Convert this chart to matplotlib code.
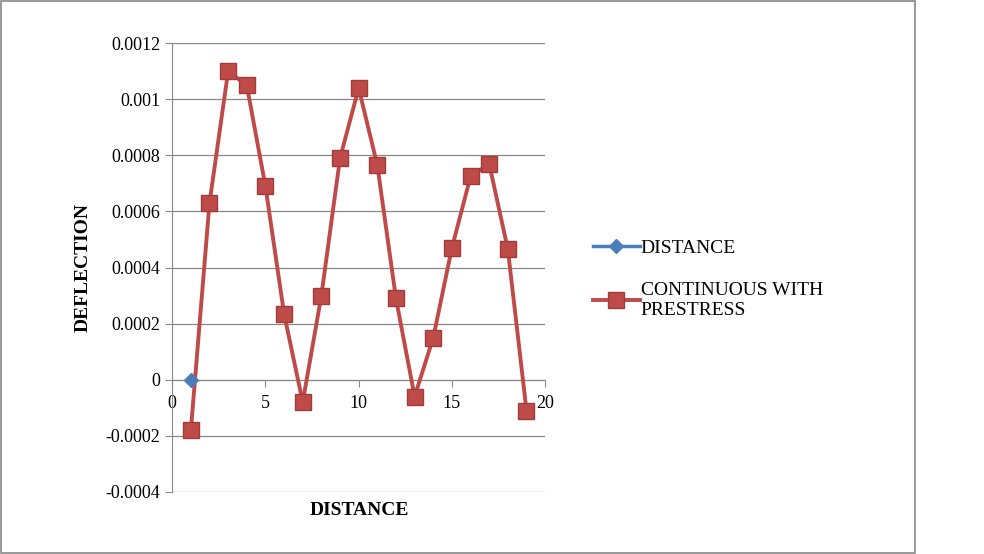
import matplotlib.pyplot as plt
from matplotlib.patches import Rectangle
from matplotlib.lines import Line2D

plt.rcParams['font.family'] = 'serif'
plt.rcParams['font.serif'] = ['Liberation Serif', 'DejaVu Serif']

distance_x = [1]
distance_y = [0]
prestress_x = list(range(1, 20))
prestress_y = [-0.00018, 0.00063, 0.0011, 0.00105, 0.00069, 0.000235, -0.00008,
               0.0003, 0.00079, 0.00104, 0.000765, 0.00029, -0.00006, 0.00015,
               0.00047, 0.000725, 0.00077, 0.000465, -0.00011]
yticks = [-0.0004, -0.0002, 0, 0.0002, 0.0004, 0.0006, 0.0008, 0.001, 0.0012]
ylabels = ['-0.0004', '-0.0002', '0', '0.0002', '0.0004', '0.0006', '0.0008', '0.001', '0.0012']

fig = plt.figure(figsize=(9.84, 5.54), dpi=100)
fig.patches.append(Rectangle((0.001, 0.001), 0.929, 0.997, transform=fig.transFigure,
                             fill=False, edgecolor='#888888', linewidth=1.2))
ax = fig.add_axes([0.175, 0.112, 0.379, 0.81])

ax.plot(distance_x, distance_y, color='#4A7EBB', marker='D', markersize=7,
        linewidth=2.5, zorder=4)
ax.plot(prestress_x, prestress_y, color='#BE4B48', marker='s', markersize=12,
        markeredgecolor='#A03C3A', linewidth=2.8, zorder=3)

ax.set_xlim(0, 20)
ax.set_ylim(-0.0004, 0.0012)
ax.set_yticks(yticks)
ax.set_yticklabels(ylabels)
ax.set_xticks([0, 5, 10, 15, 20])
ax.set_xticklabels(['0', '5', '10', '15', '20'])
ax.grid(axis='y', color='#888888', linewidth=0.9)
ax.set_axisbelow(True)

for s in ['top', 'right']:
    ax.spines[s].set_visible(False)
ax.spines['bottom'].set_position(('data', 0))
ax.spines['left'].set_color('#888888')
ax.spines['bottom'].set_color('#888888')
ax.tick_params(axis='x', direction='out', length=5, pad=6, color='#888888', labelsize=13)
ax.tick_params(axis='y', direction='out', length=5, color='#888888', labelsize=13)

fig.text(0.365, 0.078, 'DISTANCE', fontsize=14, fontweight='bold', ha='center', va='center')
ax.set_ylabel('DEFLECTION', fontsize=14, fontweight='bold', labelpad=10)

handles = [Line2D([0], [0], color='#4A7EBB', marker='D', markersize=7, linewidth=2.5),
           Line2D([0], [0], color='#BE4B48', marker='s', markersize=12,
                  markeredgecolor='#A03C3A', linewidth=2.8)]
fig.legend(handles, ['DISTANCE', 'CONTINUOUS WITH\nPRESTRESS'], loc='upper left',
           bbox_to_anchor=(0.585, 0.6), frameon=False, fontsize=14,
           handlelength=2.4, handletextpad=0.05, labelspacing=1.3)

fig.savefig('out.png', dpi=100)
